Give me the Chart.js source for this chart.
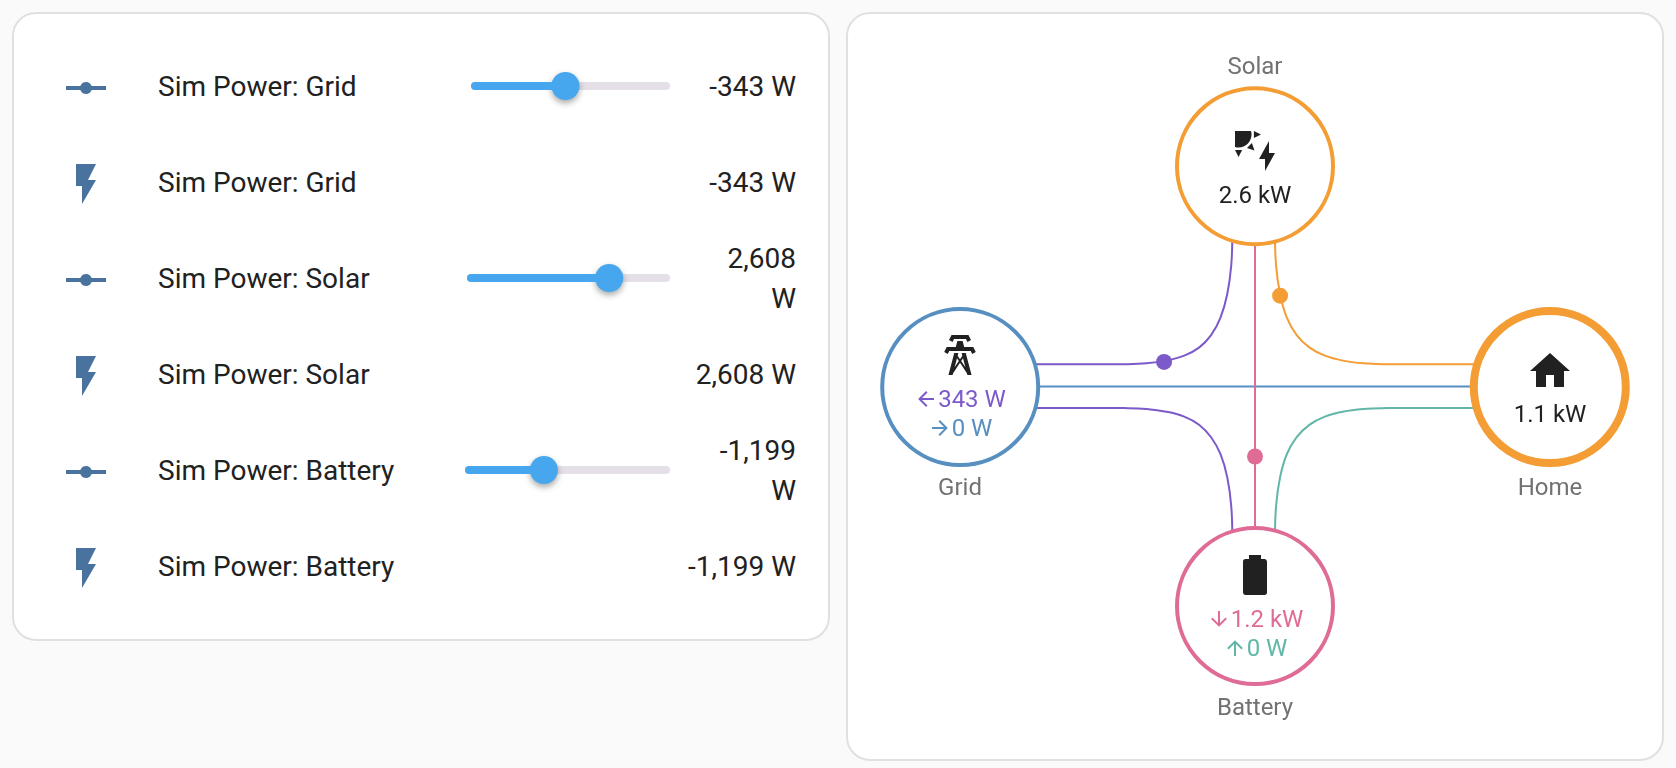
<!DOCTYPE html>
<html>
<head>
<meta charset="utf-8">
<title>Sim Power</title>
<script src="https://cdn.jsdelivr.net/npm/chart.js@4"></script>
<style>
html,body{margin:0;padding:0;width:1676px;height:768px;overflow:hidden;background:#fafafa;font-family:Roboto,sans-serif;color:#212121}
.card{position:absolute;box-sizing:border-box;background:#fff;border:2px solid #e0e0e0;border-radius:24px}
.abs{position:absolute}
.name,.val{font-size:28px;line-height:40px;white-space:nowrap}
.val{text-align:right;white-space:normal}
.icon{position:absolute;width:48px;height:48px}
.lbl,.num{position:absolute;width:160px;text-align:center;font-size:24px;line-height:30px;white-space:nowrap}
.lbl{color:#727272}
.num{display:flex;justify-content:center;align-items:center;height:30px}
.num svg{width:24px;height:24px;flex:none}
</style>
</head>
<body>
<div class="card" style="left:12px;top:12px;width:818px;height:629px"></div>
<div class="card" style="left:846px;top:12px;width:818px;height:749px"></div>
<canvas id="flow" class="abs" width="816" height="745" style="left:847px;top:13px"></canvas>
<div id="page"></div>

<script>
const $ = id => document.getElementById(id);

// ---------------- DATA ----------------
const rowNames = ["Sim Power: Grid","Sim Power: Grid","Sim Power: Solar","Sim Power: Solar","Sim Power: Battery","Sim Power: Battery"];
const rowValues = [-343,-343,2608,2608,-1199,-1199];
const rowSlider = [0,null,1,null,2,null];

const sliderValues = [-343,2608,-1199];
const sliderMin = [-5000,0,-4500];
const sliderMax = [4900,3560,4500];

const nodeNames = ["Grid","Solar","Battery","Home"];
const nodeX = [-15.8,50,50,115.8];
const nodeY = [50.3,1,99.2,50.3];

const solarHomeX = [54.4,54.4,54.7,55.6,57.1,59.3,62.2,65.6,69.6,74.2,79.3,85,95,105];
const solarHomeY = [15,15,23.1,29.6,34.8,38.7,41.5,43.3,44.4,45,45.2,45.2,45.2,45.2];
const solarGridX = [45,45,44.7,43.8,42.3,40.2,37.5,34.2,30.2,25.8,20.7,15,5,-5];
const solarGridY = [15,15,23.1,29.6,34.8,38.7,41.5,43.3,44.4,45,45.2,45.2,45.2,45.2];
const batteryGridX = [45,45,44.7,43.8,42.3,40.2,37.5,34.2,30.2,25.8,20.7,15,5,-5];
const batteryGridY = [85,85,76.9,70.4,65.3,61.5,58.7,56.9,55.8,55.2,55,55,55,55];
const batteryHomeX = [54.4,54.4,54.7,55.6,57.1,59.3,62.2,65.6,69.6,74.2,79.3,85,95,105];
const batteryHomeY = [85,85,76.9,70.4,65.3,61.5,58.7,56.9,55.8,55.2,55,55,55,55];
const solarBatteryX = [50,50];
const solarBatteryY = [0,100];
const gridHomeX = [0,100];
const gridHomeY = [50.2,50.2];

const dotX = [29.7,55.6,50];
const dotY = [44.7,29.9,65.8];

// ---------------- STYLES ----------------
const GRID="#568fc0", PURPLE="#7c5ac9", PINK="#df6c96", TEAL="#62b6a8", ORANGE="#f39d34", ICON="#4a729f", INK="#212121";
const SLIDER="#47a7ee", TRACK="#e5e0e8";

const ICONS = {
  ray:"M2 11H9.17C9.58 9.83 10.69 9 12 9S14.42 9.83 14.83 11H22V13H14.83C14.42 14.17 13.31 15 12 15S9.58 14.17 9.17 13H2V11Z",
  flash:"M7,2V13H10V22L17,10H13L17,2H7Z",
  home:"M10,20V14H14V20H19V12H22L12,3L2,12H5V20H10Z",
  battery:"M16.67,4H15V2H9V4H7.33A1.33,1.33 0 0,0 6,5.33V20.67C6,21.4 6.6,22 7.33,22H16.67A1.33,1.33 0 0,0 18,20.67V5.33C18,4.6 17.4,4 16.67,4Z",
  tower:"M8.28,5.45L6.5,4.55L7.76,2H16.23L17.5,4.55L15.72,5.44L15,4H9L8.28,5.45M18.62,8H14.09L13.3,5H10.7L9.91,8H5.38L4.1,10.55L5.89,11.44L6.62,10H17.38L18.1,11.45L19.89,10.56L18.62,8M17.77,22H15.7L15.46,21.1L12,15.9L8.55,21.1L8.3,22H6.23L9.12,11H11.19L10.83,12.35L12,14.1L13.17,12.35L12.81,11H14.88L17.77,22M11.4,15L10.5,13.65L9.32,18.13L11.4,15M14.68,18.12L13.5,13.64L12.6,15L14.68,18.12Z",
  solar:"M11.45,2V5.55L15,3.77L11.45,2M10.45,8L8,10.46L11.75,11.71L10.45,8M2,11.45L3.77,15L5.55,11.45H2M10,2H2V10C2.57,10.17 3.17,10.25 3.77,10.25C7.35,10.26 10.26,7.35 10.27,3.75C10.26,3.16 10.17,2.57 10,2M17,22V16H14L19,7V13H22L17,22Z",
  left:"M20,11V13H8L13.5,18.5L12.08,19.92L4.16,12L12.08,4.08L13.5,5.5L8,11H20Z",
  right:"M4,11V13H16L10.5,18.5L11.92,19.92L19.84,12L11.92,4.08L10.5,5.5L16,11H4Z",
  down:"M11,4H13V16L18.5,10.5L19.92,11.92L12,19.84L4.08,11.92L5.5,10.5L11,16V4Z",
  up:"M13,20H11V8L5.5,13.5L4.08,12.08L12,4.16L19.92,12.08L18.5,13.5L13,8V20Z"
};
const svg = (name,color) => `<svg viewBox="0 0 24 24"><path fill="${color}" d="${ICONS[name]}"/></svg>`;

function add(html){ $("page").insertAdjacentHTML("beforeend",html); }
function icon(name,color,x,y){ add(`<div class="icon" style="left:${x}px;top:${y}px">${svg(name,color)}</div>`); }
function label(text,cx,cy){ add(`<div class="lbl" style="left:${cx-80}px;top:${cy-15}px">${text}</div>`); }
function num(text,color,cx,cy,arrow){
  add(`<div class="num" style="left:${cx-80}px;top:${cy-15}px;color:${color}">${arrow?svg(arrow,color):""}<span>${text}</span></div>`);
}

// ---------------- LEFT CARD ----------------
const ROW_H = 96, ROW_Y = 86, VALUE_RIGHT = 796, TRACK_RIGHT = 670, THUMB = 14;
const trackLeft = [471,467,465];

const trackPlugin = {
  id:"track",
  beforeDatasetsDraw(c){
    const {ctx,chartArea:a,scales:{x,y}} = c;
    const mid = y.getPixelForValue(0), v = c.data.datasets[0].data[1].x;
    const bar = (l,r,col) => { ctx.fillStyle=col; ctx.beginPath(); ctx.roundRect(l,mid-4,r-l,8,4); ctx.fill(); };
    ctx.save();
    bar(a.left-THUMB,a.right+THUMB,TRACK);
    bar(a.left-THUMB,x.getPixelForValue(v),SLIDER);
    ctx.restore();
  },
  beforeDatasetDraw(c,args){
    if(args.index!==1) return;
    c.ctx.save();
    c.ctx.shadowColor="rgba(0,0,0,.35)"; c.ctx.shadowBlur=6; c.ctx.shadowOffsetY=3;
  },
  afterDatasetDraw(c,args){ if(args.index===1) c.ctx.restore(); }
};

function makeSlider(i,cy){
  const pad = 6, left = trackLeft[i]-pad, w = TRACK_RIGHT-trackLeft[i]+pad*2, h = 56;
  add(`<canvas id="sl${i}" class="abs" width="${w}" height="${h}" style="left:${left}px;top:${cy-h/2}px"></canvas>`);
  return () => new Chart($("sl"+i),{
    type:"scatter",
    data:{datasets:[
      {data:[{x:sliderMin[i],y:0},{x:sliderValues[i],y:0}],showLine:true,borderColor:SLIDER,borderWidth:8,pointRadius:0,clip:false},
      {data:[{x:sliderValues[i],y:0}],pointRadius:14,pointBorderWidth:0,pointBackgroundColor:SLIDER,clip:false}
    ]},
    options:{
      responsive:false,animation:false,events:[],
      layout:{autoPadding:false,padding:{left:pad+THUMB,right:pad+THUMB,top:0,bottom:0}},
      plugins:{legend:{display:false},tooltip:{enabled:false}},
      scales:{x:{display:false,min:sliderMin[i],max:sliderMax[i]},y:{display:false,min:-1,max:1}}
    },
    plugins:[trackPlugin]
  });
}

const sliderInits = [];
rowNames.forEach((name,i)=>{
  const cy = ROW_Y+ROW_H*i;
  icon(rowSlider[i]===null?"flash":"ray",ICON,62,cy-22);
  add(`<div class="abs name" style="left:158px;top:${cy-19}px">${name}</div>`);
  const text = rowValues[i].toLocaleString("en-US")+" W";
  const wrapped = rowSlider[i]!==null && text.length>6;
  add(`<div class="abs val" style="left:${VALUE_RIGHT-(wrapped?92:200)}px;width:${wrapped?92:200}px;top:${cy-(wrapped?39:19)}px">${text}</div>`);
  if(rowSlider[i]!==null) sliderInits.push(makeSlider(rowSlider[i],cy));
});

// ---------------- RIGHT CARD ----------------
const curve = (xs,ys) => xs.map((x,i)=>({x,y:ys[i]}));
const flowLine = (xs,ys,color) => ({data:curve(xs,ys),showLine:true,tension:.4,borderColor:color,borderWidth:2,pointRadius:0,order:2});

function initFlow(){
  new Chart($("flow"),{
    type:"scatter",
    data:{datasets:[
      flowLine(solarBatteryX,solarBatteryY,PINK),
      flowLine(gridHomeX,gridHomeY,GRID),
      flowLine(solarGridX,solarGridY,PURPLE),
      flowLine(solarHomeX,solarHomeY,ORANGE),
      flowLine(batteryGridX,batteryGridY,PURPLE),
      flowLine(batteryHomeX,batteryHomeY,TEAL),
      {data:curve(dotX,dotY),pointRadius:8,pointBorderWidth:0,pointBackgroundColor:[PURPLE,ORANGE,PINK],order:1},
      {data:curve(nodeX,nodeY),pointRadius:[78,78,78,76],pointBorderWidth:[4,4,4,8],
       pointBorderColor:[GRID,ORANGE,PINK,ORANGE],pointBackgroundColor:"#fff",order:0}
    ]},
    options:{
      responsive:false,animation:false,events:[],
      layout:{autoPadding:false,padding:0},
      plugins:{legend:{display:false},tooltip:{enabled:false}},
      scales:{
        x:{display:false,min:-41.07,max:141.07},
        y:{display:false,min:-33.19,max:133.1,reverse:true}
      }
    }
  });
}

label(nodeNames[1],1255,66);
icon("solar",INK,1231,127);
num("2.6 kW",INK,1255,195);

icon("tower",INK,936,331);
num("343 W",PURPLE,960,399,"left");
num("0 W",GRID,960,428,"right");
label(nodeNames[0],960,487);

icon("home",INK,1526,347);
num("1.1 kW",INK,1550,414);
label(nodeNames[3],1550,487);

icon("battery",INK,1231,551);
num("1.2 kW",PINK,1255,619,"down");
num("0 W",TEAL,1255,648,"up");
label(nodeNames[2],1255,707);

// ---------------- INITIALIZE ----------------
sliderInits.forEach(f=>f());
initFlow();
</script>
</body>
</html>
